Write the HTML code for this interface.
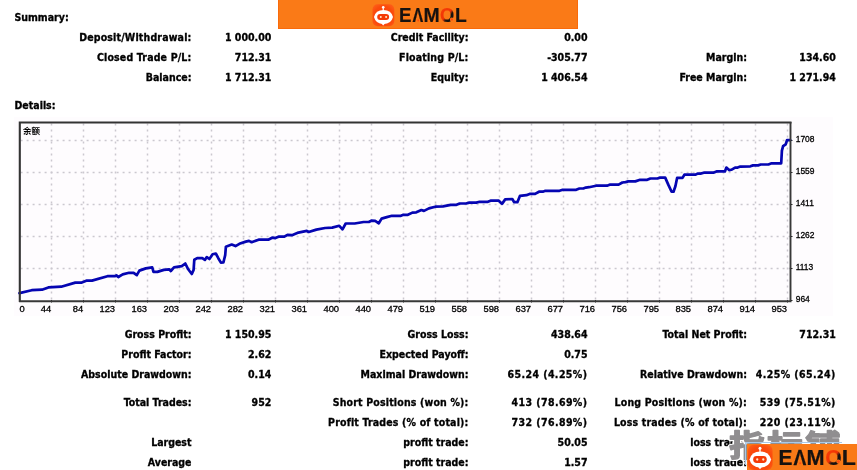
<!DOCTYPE html>
<html><head><meta charset="utf-8"><title>Report</title>
<style>
html,body{margin:0;padding:0;background:#fff}
body{width:857px;height:470px;position:relative;overflow:hidden;font-family:"DejaVu Sans Condensed","DejaVu Sans","Liberation Sans",sans-serif;font-stretch:condensed;font-weight:bold;font-size:10.5px;color:#000;-webkit-text-stroke:.3px #000}
.r{position:absolute;left:0;width:857px;height:20px;line-height:20px}
.r span{position:absolute;top:0;white-space:nowrap}
.h{left:14.5px}
.s1{letter-spacing:.17px}.s2{letter-spacing:.42px}
.l1{right:665.5px}.v1{right:585.7px}
.l2{right:388.5px}.v2{right:269.5px}
.l3{right:110px}.v3{right:21.2px}
#banner{position:absolute;left:278px;top:0;width:299.8px;height:28.9px;background:#fa7a17;box-shadow:inset 1px -1px 0 #fa6a0a,inset -1px 0 0 #fa6a0a}
#badge{position:absolute;left:747px;top:444px;width:110px;height:26px;background:#fa7a17;overflow:hidden}
.bl{position:absolute;background:#a9c9e8}
svg{position:absolute;left:0;top:0;overflow:visible}
.r,svg{filter:blur(.35px)}
</style></head><body>
<div id="banner"><svg width="300" height="29" viewBox="0 0 300 29"><g transform="translate(94.50,4.20) scale(0.8720,0.8800)">
<defs><radialGradient id="ag" cx="0.5" cy="0.55" r="0.75"><stop offset="0" stop-color="#f83e06"/><stop offset="0.6" stop-color="#fb4a0c"/><stop offset="1" stop-color="#ff6a1e"/></radialGradient></defs>
<rect x="0" y="0" width="25" height="25" rx="5.8" fill="url(#ag)"/>
<circle cx="12.3" cy="3.5" r="1.5" fill="#fff"/><rect x="11.65" y="4" width="1.3" height="4.6" fill="#fff"/>
<path d="M9.8 21.4 L12.3 24.3 L14.8 21.4 Z" fill="#fff"/>
<path d="M1.7 14.6 Q3.6 6.8 12.6 6.6 Q21.6 6.8 23.5 14.6 Q21.6 22.4 12.6 22.6 Q3.6 22.4 1.7 14.6 Z" fill="#fff"/>
<rect x="5.4" y="11.1" width="13.7" height="6.9" rx="3.45" fill="#f53a06"/>
<circle cx="9.5" cy="14.55" r="1.15" fill="#ffe9c8"/><circle cx="15.6" cy="14.55" r="1.15" fill="#ffe9c8"/>
</g><defs><linearGradient id="aq" gradientUnits="userSpaceOnUse" x1="1.20" y1="-13.24" x2="14.04" y2="-0.60"><stop offset="0" stop-color="#f83c08"/><stop offset="0.50" stop-color="#ee3404"/><stop offset="0.66" stop-color="#171210"/><stop offset="1" stop-color="#171210"/></linearGradient></defs><g font-family="'Liberation Sans',sans-serif" font-weight="bold" font-size="20.06" fill="#171210" stroke="#171210" stroke-width="0.2" stroke-linejoin="round"><text transform="translate(120.95,21.90) scale(0.933,1)">E</text><text transform="translate(134.39,21.90) scale(0.801,1)">Λ</text><text transform="translate(145.60,21.90) scale(0.970,1)">M</text><text transform="translate(162.05,21.90) scale(0.911,1)" fill="url(#aq)" stroke="url(#aq)">O</text><text transform="translate(176.91,21.90) scale(0.962,1)">L</text></g><circle cx="173.80" cy="19.40" r="1.9" fill="#fa7a17"/><circle cx="173.80" cy="19.40" r="1.2" fill="#ff4a10"/><circle cx="140.20" cy="20.50" r="0.9" fill="#fa7a17"/><circle cx="140.20" cy="20.50" r="0.9" fill="#ff4a10"/></svg></div>

<div class="r" style="top:7px"><span class="h">Summary:</span></div>
<div class="r" style="top:27px"><span class="l1 s1">Deposit/Withdrawal:</span><span class="v1">1 000.00</span><span class="l2">Credit Facility:</span><span class="v2">0.00</span></div>
<div class="r" style="top:47px"><span class="l1 s1">Closed Trade P/L:</span><span class="v1">712.31</span><span class="l2 s1">Floating P/L:</span><span class="v2">-305.77</span><span class="l3">Margin:</span><span class="v3">134.60</span></div>
<div class="r" style="top:67px"><span class="l1">Balance:</span><span class="v1">1 712.31</span><span class="l2">Equity:</span><span class="v2">1 406.54</span><span class="l3">Free Margin:</span><span class="v3">1 271.94</span></div>
<div class="r" style="top:95px"><span class="h">Details:</span></div>

<svg width="857" height="470" viewBox="0 0 857 470">
<rect x="14" y="117" width="819" height="199" fill="#fefcfe"/>
<g stroke="#cbc8cf" stroke-width="1.5" stroke-dasharray="2 4" stroke-dashoffset="-0.4" fill="none"><line x1="51.5" y1="123" x2="51.5" y2="300"/><line x1="83.5" y1="123" x2="83.5" y2="300"/><line x1="115.5" y1="123" x2="115.5" y2="300"/><line x1="147.5" y1="123" x2="147.5" y2="300"/><line x1="179.5" y1="123" x2="179.5" y2="300"/><line x1="211.5" y1="123" x2="211.5" y2="300"/><line x1="243.5" y1="123" x2="243.5" y2="300"/><line x1="275.5" y1="123" x2="275.5" y2="300"/><line x1="307.5" y1="123" x2="307.5" y2="300"/><line x1="339.5" y1="123" x2="339.5" y2="300"/><line x1="371.5" y1="123" x2="371.5" y2="300"/><line x1="403.5" y1="123" x2="403.5" y2="300"/><line x1="435.5" y1="123" x2="435.5" y2="300"/><line x1="467.5" y1="123" x2="467.5" y2="300"/><line x1="499.5" y1="123" x2="499.5" y2="300"/><line x1="531.5" y1="123" x2="531.5" y2="300"/><line x1="563.5" y1="123" x2="563.5" y2="300"/><line x1="595.5" y1="123" x2="595.5" y2="300"/><line x1="627.5" y1="123" x2="627.5" y2="300"/><line x1="659.5" y1="123" x2="659.5" y2="300"/><line x1="691.5" y1="123" x2="691.5" y2="300"/><line x1="723.5" y1="123" x2="723.5" y2="300"/><line x1="755.5" y1="123" x2="755.5" y2="300"/><line x1="787.5" y1="123" x2="787.5" y2="300"/><line x1="20.2" y1="140.5" x2="790" y2="140.5"/><line x1="20.2" y1="172.5" x2="790" y2="172.5"/><line x1="20.2" y1="204.5" x2="790" y2="204.5"/><line x1="20.2" y1="236.5" x2="790" y2="236.5"/><line x1="20.2" y1="268.5" x2="790" y2="268.5"/></g>
<g stroke="#222" stroke-width="1" fill="none"><line x1="51.5" y1="300" x2="51.5" y2="302.5"/><line x1="83.5" y1="300" x2="83.5" y2="302.5"/><line x1="115.5" y1="300" x2="115.5" y2="302.5"/><line x1="147.5" y1="300" x2="147.5" y2="302.5"/><line x1="179.5" y1="300" x2="179.5" y2="302.5"/><line x1="211.5" y1="300" x2="211.5" y2="302.5"/><line x1="243.5" y1="300" x2="243.5" y2="302.5"/><line x1="275.5" y1="300" x2="275.5" y2="302.5"/><line x1="307.5" y1="300" x2="307.5" y2="302.5"/><line x1="339.5" y1="300" x2="339.5" y2="302.5"/><line x1="371.5" y1="300" x2="371.5" y2="302.5"/><line x1="403.5" y1="300" x2="403.5" y2="302.5"/><line x1="435.5" y1="300" x2="435.5" y2="302.5"/><line x1="467.5" y1="300" x2="467.5" y2="302.5"/><line x1="499.5" y1="300" x2="499.5" y2="302.5"/><line x1="531.5" y1="300" x2="531.5" y2="302.5"/><line x1="563.5" y1="300" x2="563.5" y2="302.5"/><line x1="595.5" y1="300" x2="595.5" y2="302.5"/><line x1="627.5" y1="300" x2="627.5" y2="302.5"/><line x1="659.5" y1="300" x2="659.5" y2="302.5"/><line x1="691.5" y1="300" x2="691.5" y2="302.5"/><line x1="723.5" y1="300" x2="723.5" y2="302.5"/><line x1="755.5" y1="300" x2="755.5" y2="302.5"/><line x1="787.5" y1="300" x2="787.5" y2="302.5"/><line x1="790" y1="140.5" x2="792.5" y2="140.5"/><line x1="790" y1="172.5" x2="792.5" y2="172.5"/><line x1="790" y1="204.5" x2="792.5" y2="204.5"/><line x1="790" y1="236.5" x2="792.5" y2="236.5"/><line x1="790" y1="268.5" x2="792.5" y2="268.5"/><line x1="790" y1="300.5" x2="792.5" y2="300.5"/></g>
<path d="M19.5 293.1 L31.7 290.2 L42.0 289.7 L48.4 287.4 L61.2 286.7 L75.3 282.6 L81.8 282.6 L86.9 280.6 L92.0 280.6 L107.4 276.2 L115.1 276.2 L116.4 275.4 L118.3 277.0 L122.7 274.4 L129.1 272.8 L133.6 272.8 L136.8 275.1 L139.4 270.6 L145.8 268.4 L152.2 267.4 L153.5 271.9 L157.4 271.9 L163.8 269.9 L169.2 269.3 L170.8 271.0 L174.0 267.4 L181.8 266.1 L185.3 263.5 L188.2 269.3 L191.8 274.0 L193.6 269.9 L194.3 259.7 L197.2 258.1 L202.3 258.1 L204.9 259.9 L206.8 257.1 L209.4 259.0 L212.6 254.3 L215.8 253.5 L218.3 258.2 L220.9 262.6 L223.4 262.5 L225.2 255.1 L225.9 246.7 L231.7 244.5 L235.5 246.1 L239.4 243.8 L245.8 241.6 L249.0 240.9 L251.6 242.2 L258.6 239.7 L268.3 239.7 L272.1 237.7 L275.3 238.1 L278.5 236.7 L284.3 236.7 L287.5 234.8 L292.0 235.2 L298.4 232.6 L306.8 230.9 L308.7 232.0 L316.4 229.6 L325.1 228.0 L332.2 227.6 L339.3 225.8 L342.5 229.3 L345.7 223.5 L354.7 223.5 L363.6 222.0 L368.8 222.0 L371.3 220.7 L375.2 220.9 L378.8 223.3 L381.6 218.6 L386.8 217.1 L391.9 215.8 L400.9 215.8 L403.4 214.8 L407.9 214.8 L412.4 212.6 L416.3 212.3 L421.4 210.0 L424.0 210.9 L428.9 208.4 L435.3 206.7 L443.0 206.3 L450.7 204.8 L456.5 204.8 L459.7 203.5 L466.1 203.5 L469.3 202.6 L476.3 202.6 L479.6 201.8 L487.9 201.8 L490.5 200.7 L498.8 200.7 L502.0 203.9 L505.2 199.4 L512.3 199.0 L514.2 202.2 L517.4 202.2 L520.0 195.8 L526.4 195.2 L529.6 193.9 L535.1 193.9 L539.0 191.7 L542.8 191.7 L545.4 190.8 L559.5 190.8 L562.7 189.8 L576.2 189.8 L579.4 188.5 L583.3 188.5 L585.8 187.6 L589.0 187.2 L596.1 185.7 L607.0 185.7 L609.6 184.7 L618.6 184.7 L622.4 182.5 L625.6 182.1 L628.2 181.4 L635.3 181.4 L640.1 179.8 L647.2 179.8 L650.4 178.5 L657.5 178.5 L660.0 177.6 L665.2 177.6 L668.4 184.9 L671.6 191.7 L673.5 191.7 L675.4 186.2 L677.1 177.9 L682.5 177.9 L684.4 174.7 L695.3 174.7 L697.9 173.6 L700.5 173.6 L703.7 172.7 L713.3 172.7 L716.5 171.4 L724.9 171.4 L726.4 167.6 L729.4 170.2 L731.3 169.8 L735.1 167.6 L737.7 167.6 L740.3 166.6 L750.4 166.3 L753.0 165.4 L758.1 165.4 L760.7 164.5 L768.4 164.5 L771.6 163.3 L781.2 163.3 L781.9 150.7 L783.1 146.2 L785.7 144.3 L787.0 140.1 L790.2 140.1" fill="none" stroke="#0505b2" stroke-width="2.7" stroke-linejoin="round" stroke-linecap="round"/>
<path d="M19.8 302 V122.5 H791.5" fill="none" stroke="#333" stroke-width="2.1"/>
<path d="M790.5 122 V302 M19 301.3 H791.5" fill="none" stroke="#383838" stroke-width="1.9"/>
<g font-family="'Liberation Sans',sans-serif" font-size="9.4" font-weight="normal" fill="#000" stroke="#000" stroke-width="0.3"><text transform="translate(19.4,312.4) scale(1.0,1)">0</text><text transform="translate(51.1,312.4) scale(1.0,1)" text-anchor="end">44</text><text transform="translate(83.1,312.4) scale(1.0,1)" text-anchor="end">84</text><text transform="translate(115.1,312.4) scale(1.0,1)" text-anchor="end">123</text><text transform="translate(147.1,312.4) scale(1.0,1)" text-anchor="end">163</text><text transform="translate(179.1,312.4) scale(1.0,1)" text-anchor="end">203</text><text transform="translate(211.1,312.4) scale(1.0,1)" text-anchor="end">242</text><text transform="translate(243.1,312.4) scale(1.0,1)" text-anchor="end">282</text><text transform="translate(275.1,312.4) scale(1.0,1)" text-anchor="end">321</text><text transform="translate(307.1,312.4) scale(1.0,1)" text-anchor="end">361</text><text transform="translate(339.1,312.4) scale(1.0,1)" text-anchor="end">400</text><text transform="translate(371.1,312.4) scale(1.0,1)" text-anchor="end">440</text><text transform="translate(403.1,312.4) scale(1.0,1)" text-anchor="end">479</text><text transform="translate(435.1,312.4) scale(1.0,1)" text-anchor="end">519</text><text transform="translate(467.1,312.4) scale(1.0,1)" text-anchor="end">558</text><text transform="translate(499.1,312.4) scale(1.0,1)" text-anchor="end">598</text><text transform="translate(531.1,312.4) scale(1.0,1)" text-anchor="end">637</text><text transform="translate(563.1,312.4) scale(1.0,1)" text-anchor="end">677</text><text transform="translate(595.1,312.4) scale(1.0,1)" text-anchor="end">716</text><text transform="translate(627.1,312.4) scale(1.0,1)" text-anchor="end">756</text><text transform="translate(659.1,312.4) scale(1.0,1)" text-anchor="end">795</text><text transform="translate(691.1,312.4) scale(1.0,1)" text-anchor="end">835</text><text transform="translate(723.1,312.4) scale(1.0,1)" text-anchor="end">874</text><text transform="translate(755.1,312.4) scale(1.0,1)" text-anchor="end">914</text><text transform="translate(787.1,312.4) scale(1.0,1)" text-anchor="end">953</text><text transform="translate(795.7,142.4) scale(0.9,1)">1708</text><text transform="translate(795.7,174.4) scale(0.9,1)">1559</text><text transform="translate(795.7,206.4) scale(0.9,1)">1411</text><text transform="translate(795.7,238.4) scale(0.9,1)">1262</text><text transform="translate(795.7,270.4) scale(0.9,1)">1113</text><text transform="translate(795.7,302.4) scale(0.9,1)">964</text></g>
<text x="23" y="133.8" font-family="'Liberation Sans','Noto Sans CJK SC',sans-serif" font-size="8.5" font-weight="bold" fill="#000">余额</text>
</svg>

<div class="r" style="top:324px"><span class="l1">Gross Profit:</span><span class="v1">1 150.95</span><span class="l2">Gross Loss:</span><span class="v2">438.64</span><span class="l3">Total Net Profit:</span><span class="v3">712.31</span></div>
<div class="r" style="top:344px"><span class="l1">Profit Factor:</span><span class="v1">2.62</span><span class="l2">Expected Payoff:</span><span class="v2">0.75</span></div>
<div class="r" style="top:364px"><span class="l1">Absolute Drawdown:</span><span class="v1">0.14</span><span class="l2">Maximal Drawdown:</span><span class="v2 s2">65.24 (4.25%)</span><span class="l3">Relative Drawdown:</span><span class="v3 s2">4.25% (65.24)</span></div>
<div class="r" style="top:392px"><span class="l1">Total Trades:</span><span class="v1">952</span><span class="l2 s1">Short Positions (won %):</span><span class="v2 s2">413 (78.69%)</span><span class="l3 s1">Long Positions (won %):</span><span class="v3 s2">539 (75.51%)</span></div>
<div class="r" style="top:412px"><span class="l2 s1">Profit Trades (% of total):</span><span class="v2 s2">732 (76.89%)</span><span class="l3 s1">Loss trades (% of total):</span><span class="v3 s2">220 (23.11%)</span></div>
<div class="r" style="top:432px"><span class="l1">Largest</span><span class="l2">profit trade:</span><span class="v2">50.05</span><span class="l3">loss trade:</span></div>
<div class="r" style="top:452px"><span class="l1">Average</span><span class="l2">profit trade:</span><span class="v2">1.57</span><span class="l3">loss trade:</span></div>

<svg class="wmsvg" width="857" height="470" viewBox="0 0 857 470"><g font-family="'Liberation Sans','Noto Sans CJK SC',sans-serif" font-weight="bold" font-size="30" letter-spacing="2.2" stroke-linejoin="round" transform="translate(729.3,456.3) scale(1.18,1)"><text x="0" y="0" fill="#fff" stroke="#fff" stroke-width="3.6">指标铺</text><text x="0" y="0" fill="#908e90" stroke="#908e90" stroke-width="1.5">指标铺</text></g></svg>
<div class="bl" style="left:745px;top:442px;width:97px;height:1.3px"></div><div class="bl" style="left:744.6px;top:443px;width:1px;height:21.5px"></div>
<div id="badge"><svg width="110" height="26" viewBox="0 0 110 26"><g transform="translate(0.80,0.80) scale(0.9920,1.0080)">
<defs><radialGradient id="bg" cx="0.5" cy="0.55" r="0.75"><stop offset="0" stop-color="#f83e06"/><stop offset="0.6" stop-color="#fb4a0c"/><stop offset="1" stop-color="#ff6a1e"/></radialGradient></defs>
<rect x="0" y="0" width="25" height="25" rx="5.8" fill="url(#bg)"/>
<circle cx="12.3" cy="3.5" r="1.5" fill="#fff"/><rect x="11.65" y="4" width="1.3" height="4.6" fill="#fff"/>
<path d="M9.8 21.4 L12.3 24.3 L14.8 21.4 Z" fill="#fff"/>
<path d="M1.7 14.6 Q3.6 6.8 12.6 6.6 Q21.6 6.8 23.5 14.6 Q21.6 22.4 12.6 22.6 Q3.6 22.4 1.7 14.6 Z" fill="#fff"/>
<rect x="5.4" y="11.1" width="13.7" height="6.9" rx="3.45" fill="#f53a06"/>
<circle cx="9.5" cy="14.55" r="1.15" fill="#ffe9c8"/><circle cx="15.6" cy="14.55" r="1.15" fill="#ffe9c8"/>
</g><defs><linearGradient id="bq" gradientUnits="userSpaceOnUse" x1="1.36" y1="-15.01" x2="15.92" y2="-0.68"><stop offset="0" stop-color="#f83c08"/><stop offset="0.50" stop-color="#ee3404"/><stop offset="0.66" stop-color="#171210"/><stop offset="1" stop-color="#171210"/></linearGradient></defs><g font-family="'Liberation Sans',sans-serif" font-weight="bold" font-size="22.75" fill="#171210" stroke="#171210" stroke-width="0.25" stroke-linejoin="round"><text transform="translate(31.52,20.68) scale(0.921,1)">E</text><text transform="translate(46.59,20.68) scale(0.844,1)">Λ</text><text transform="translate(59.58,20.68) scale(0.953,1)">M</text><text transform="translate(78.26,20.68) scale(0.927,1)" fill="url(#bq)" stroke="url(#bq)">O</text><text transform="translate(94.68,20.68) scale(1.015,1)">L</text></g><circle cx="91.40" cy="17.60" r="2.0999999999999996" fill="#fa7a17"/><circle cx="91.40" cy="17.60" r="1.4" fill="#ff4a10"/><circle cx="53.20" cy="19.20" r="1.0" fill="#fa7a17"/><circle cx="53.20" cy="19.20" r="1.0" fill="#ff4a10"/></svg></div>
</body></html>
